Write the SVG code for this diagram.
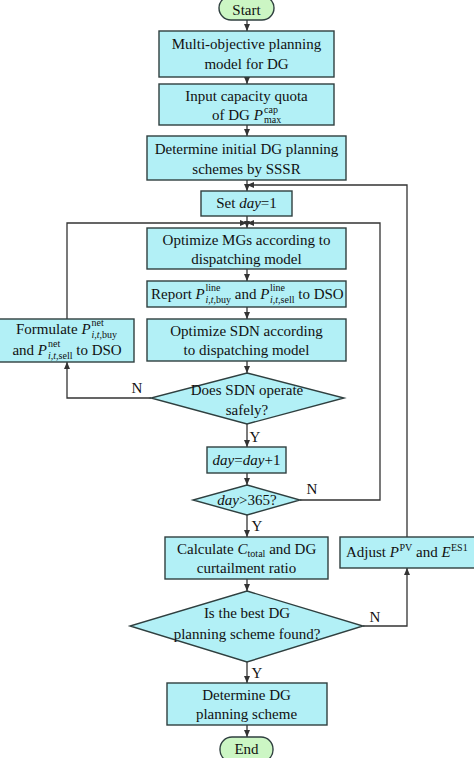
<svg xmlns="http://www.w3.org/2000/svg" width="474" height="758" viewBox="0 0 474 758">
<defs>
<marker id="ah" markerUnits="userSpaceOnUse" markerWidth="7" markerHeight="6" refX="7" refY="3" orient="auto">
<path d="M0,0 L7,3 L0,6 z" fill="#333"/>
</marker>
<style>
.box{fill:#b2f0f6;stroke:#2f3f3f;stroke-width:1.4}
.term{fill:#ccf6c4;stroke:#2f3f3f;stroke-width:1.4}
.ln{fill:none;stroke:#333;stroke-width:1.3}
.ar{fill:none;stroke:#333;stroke-width:1.3;marker-end:url(#ah)}
text{font-family:"Liberation Serif","Times New Roman",serif;font-size:15px;fill:#111}
.c{text-anchor:middle}
.i{font-style:italic}
.s{font-size:10px}
.si{font-size:10px;font-style:italic}
</style>
</defs>
<g id="connectors">
<path class="ar" d="M247,20 V31"/>
<path class="ar" d="M247,77 V84"/>
<path class="ar" d="M247,125 V136"/>
<path class="ar" d="M247,180 V191"/>
<path class="ar" d="M407,537 V185 H247"/>
<path class="ar" d="M247,216 V228"/>
<path class="ar" d="M67,319 V223 H247"/>
<path class="ar" d="M300,500 H380 V223 H247"/>
<path class="ar" d="M247,269 V281"/>
<path class="ar" d="M247,307 V319"/>
<path class="ar" d="M247,361 V373"/>
<path class="ar" d="M151,398 H67 V362"/>
<path class="ar" d="M247,424 V447"/>
<path class="ar" d="M247,473 V485"/>
<path class="ar" d="M247,515 V537"/>
<path class="ar" d="M247,579 V591"/>
<path class="ar" d="M363,626 H407 V568"/>
<path class="ar" d="M247,662 V683"/>
<path class="ar" d="M247,725 V737"/>
<text x="137" y="393" class="c">N</text>
<text x="255" y="442" class="c">Y</text>
<text x="312" y="494" class="c">N</text>
<text x="257" y="531" class="c">Y</text>
<text x="375" y="622" class="c">N</text>
<text x="257" y="678" class="c">Y</text>
</g>
<g id="start">
<rect class="term" x="219" y="-4" width="55" height="24" rx="12"/>
<text x="246.5" y="15" class="c">Start</text>
</g>
<g id="model">
<rect class="box" x="159" y="31" width="175" height="46"/>
<text x="246.5" y="49" class="c">Multi-objective planning</text>
<text x="246.5" y="69" class="c">model for DG</text>
</g>
<g id="input">
<rect class="box" x="159" y="84" width="175" height="41"/>
<text x="246.5" y="101" class="c">Input capacity quota</text>
<text y="120"><tspan x="212">of DG </tspan><tspan x="253.7" class="i">P</tspan><tspan x="264" y="113" class="s">cap</tspan><tspan x="264" y="123" class="s">max</tspan></text>
</g>
<g id="initial">
<rect class="box" x="147" y="136" width="199" height="44"/>
<text x="246.5" y="154" class="c">Determine initial DG planning</text>
<text x="246.5" y="174" class="c">schemes by SSSR</text>
</g>
<g id="setday">
<rect class="box" x="201" y="191" width="91" height="25"/>
<text x="246.5" y="208" class="c">Set <tspan class="i">day</tspan>=1</text>
</g>
<g id="optmg">
<rect class="box" x="147" y="228" width="199" height="41"/>
<text x="246.5" y="245" class="c">Optimize MGs according to</text>
<text x="246.5" y="264" class="c">dispatching model</text>
</g>
<g id="report">
<rect class="box" x="147" y="281" width="199" height="26"/>
<text y="299"><tspan x="151">Report </tspan><tspan x="195.6" class="i">P</tspan><tspan x="205.5" y="291" class="s">line</tspan><tspan x="205.5" y="303" class="si">i,t,<tspan font-style="normal">buy</tspan></tspan><tspan x="231" y="299"> and </tspan><tspan x="260.3" class="i">P</tspan><tspan x="270" y="291" class="s">line</tspan><tspan x="270" y="303" class="si">i,t,<tspan font-style="normal">sell</tspan></tspan><tspan x="294.5" y="299"> to DSO</tspan></text>
</g>
<g id="optsdn">
<rect class="box" x="147" y="319" width="199" height="42"/>
<text x="246.5" y="336" class="c">Optimize SDN according</text>
<text x="246.5" y="355" class="c">to dispatching model</text>
</g>
<g id="formulate">
<rect class="box" x="-2" y="319" width="136" height="43"/>
<text y="334"><tspan x="16">Formulate </tspan><tspan x="81.4" class="i">P</tspan></text>
<text x="91.5" y="326" class="s">net</text>
<text x="91.5" y="338" class="si">i,t,<tspan font-style="normal">buy</tspan></text>
<text y="355"><tspan x="12.4">and </tspan><tspan x="37.8" class="i">P</tspan><tspan x="72.5"> to DSO</tspan></text>
<text x="48" y="347" class="s">net</text>
<text x="48" y="359" class="si">i,t,<tspan font-style="normal">sell</tspan></text>
</g>
<g id="safe">
<polygon class="box" points="247,373 344,398 247,424 151,398"/>
<text x="247" y="395" class="c">Does SDN operate</text>
<text x="247" y="415" class="c">safely?</text>
</g>
<g id="inc">
<rect class="box" x="207" y="447" width="79" height="26"/>
<text x="246.5" y="465" class="c"><tspan class="i">day</tspan>=<tspan class="i">day</tspan>+1</text>
</g>
<g id="check">
<polygon class="box" points="247,485 300,500 247,515 193,500"/>
<text x="247" y="505" class="c"><tspan class="i">day</tspan>&gt;365?</text>
</g>
<g id="calc">
<rect class="box" x="165" y="537" width="163" height="42"/>
<text y="554"><tspan x="177">Calculate </tspan><tspan x="237.4" class="i">C</tspan><tspan x="247.6" y="557" class="s">total</tspan><tspan x="265.4" y="554"> and DG</tspan></text>
<text x="246.5" y="573" class="c">curtailment ratio</text>
</g>
<g id="adjust">
<rect class="box" x="340" y="537" width="136" height="31"/>
<text y="557"><tspan x="346">Adjust </tspan><tspan x="389.8" class="i">P</tspan><tspan x="399.5" y="551" class="s">PV</tspan><tspan x="412.3" y="557"> and </tspan><tspan x="441.5" class="i">E</tspan><tspan x="451" y="551" class="s">ES1</tspan></text>
</g>
<g id="best">
<polygon class="box" points="247,591 363,626 247,662 130,626"/>
<text x="247" y="618" class="c">Is the best DG</text>
<text x="247" y="639" class="c">planning scheme found?</text>
</g>
<g id="final">
<rect class="box" x="167" y="683" width="160" height="42"/>
<text x="246.5" y="700" class="c">Determine DG</text>
<text x="246.5" y="719" class="c">planning scheme</text>
</g>
<g id="end">
<rect class="term" x="220" y="737" width="53" height="25" rx="12"/>
<text x="246.5" y="754" class="c">End</text>
</g>
</svg>
